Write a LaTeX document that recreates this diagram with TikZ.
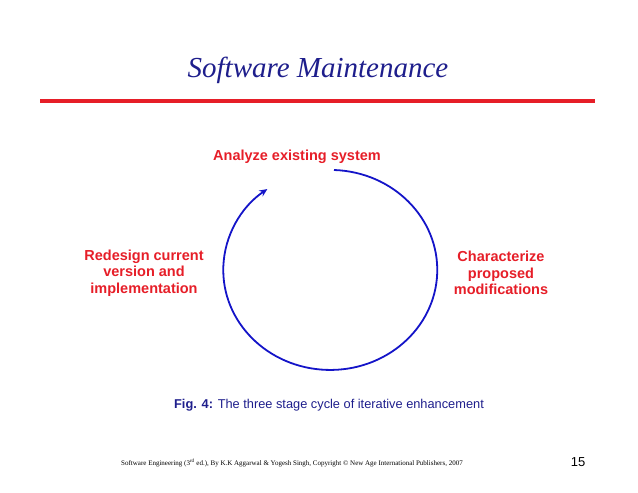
\documentclass[tikz,border=0pt]{standalone}
\usepackage{fontspec}
\usetikzlibrary{arrows.meta}
\setmainfont{Liberation Serif}
\setsansfont{Liberation Sans}
\definecolor{navy}{RGB}{30,30,140}
\definecolor{lred}{RGB}{230,30,40}
\definecolor{arcblue}{RGB}{20,20,200}
\begin{document}
\begin{tikzpicture}[x=1pt,y=-1pt,
  lab/.style={font=\sffamily\bfseries\fontsize{14.5}{16.5}\selectfont,text=lred,align=center,inner sep=0pt}]
\useasboundingbox (0,0) rectangle (638,493);
\node[font=\itshape\fontsize{29}{33}\selectfont,text=navy] (title) at (318,70) {Software Maintenance};
\draw[lred,line width=4pt] (40,101) -- (595,101);
\node[lab] (a) at (297,157) {Analyze existing system};
\node[lab] (c) at (501,273) {Characterize\\proposed\\modifications};
\node[lab] (r) at (144,273) {Redesign current\\version and\\implementation};
\coordinate (s) at (334,170);
\draw[arcblue,line width=1.8pt,-{Stealth[length=8pt,width=7pt]}] (s) arc[start angle=-88,end angle=234,x radius=107,y radius=100];
\node[font=\sffamily\fontsize{12.8}{15}\selectfont,text=navy] (cap) at (329,405) {\textbf{Fig. 4:} The three stage cycle of iterative enhancement};
\node[font=\fontsize{7}{8}\selectfont] (foot) at (292,463) {Software Engineering (3\textsuperscript{rd} ed.), By K.K Aggarwal \& Yogesh Singh, Copyright © New Age International Publishers, 2007};
\node[font=\sffamily\fontsize{13}{14}\selectfont] (pg) at (578,462) {15};
\end{tikzpicture}
\end{document}
